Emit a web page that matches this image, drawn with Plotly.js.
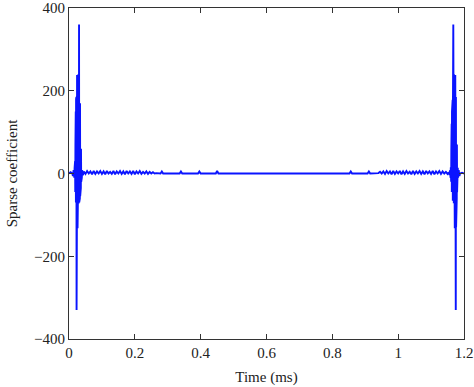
<!DOCTYPE html>
<html>
<head>
<meta charset="utf-8">
<script src="https://cdn.plot.ly/plotly-3.0.1.min.js"></script>
<style>html,body{margin:0;padding:0;background:#fff;}#chart{width:474px;height:387px;}</style>
</head>
<body>
<div id="chart"></div>
<script>
// Time in ms, sparse coefficient values
var tStart = [0.000, 0.005, 0.010, 0.012, 0.014, 0.016, 0.017];
var vStart = [0, 3, 0, -6, 8, -10, 14];

var tSpikeL = [0.0180,0.0185,0.0190,0.0195,0.0200,0.0205,0.0210,0.0215,0.0220,0.0225,
               0.0230,0.0235,0.0240,0.0245,0.0250,0.0255,0.0260,0.0265,0.0270,0.0275,
               0.0280,0.0285,0.0290,0.0295,0.0300,0.0305,0.0310,0.0315,0.0320,0.0325,
               0.0330,0.0335,0.0340,0.0345,0.0350,0.0355,0.0360,0.0365,0.0370,0.0380,
               0.0390,0.0400,0.0420];
var vSpikeL = [-18,30,-45,70,-60,150,-70,180,-130,185,
               -330,175,-125,238,-71,230,-132,185,-70,180,
               -68,240,-72,185,-65,360,-70,182,-66,178,
               -60,170,-55,150,-45,120,-35,60,-20,15,
               -10,8,-4];

var tRippleL = [0.045,0.050,0.055,0.060,0.065,0.070,0.075,0.080,0.085,0.090,
                0.095,0.100,0.105,0.110,0.115,0.120,0.125,0.130,0.135,0.140,
                0.145,0.150,0.155,0.160,0.165,0.170,0.175,0.180,0.185,0.190,
                0.195,0.200,0.205,0.210,0.215,0.220,0.225,0.230,0.235,0.240,
                0.245,0.250,0.255,0.260,0.265];
var vRippleL = [5,-1,6,0,5,-2,6,-1,5,0,
                6,-1,5,-2,6,0,4,-1,6,-2,
                5,0,6,-1,5,-2,6,0,5,-1,
                6,-2,5,0,6,-1,4,0,5,-1,
                4,0,3,0,1];

var tMid = [0.270,0.278,0.282,0.286,0.336,0.340,0.344,0.392,0.396,0.400,
            0.446,0.450,0.454,0.852,0.856,0.860,0.907,0.911,0.915,0.935];
var vMid = [0,0,5,0,0,5,0,0,5,0,
            0,6,0,0,5,0,0,5,0,0];

var tRippleR = [0.940,0.945,0.950,0.955,0.960,0.965,0.970,0.975,0.980,0.985,
                0.990,0.995,1.000,1.005,1.010,1.015,1.020,1.025,1.030,1.035,
                1.040,1.045,1.050,1.055,1.060,1.065,1.070,1.075,1.080,1.085,
                1.090,1.095,1.100,1.105,1.110,1.115,1.120,1.125,1.130,1.135,
                1.140,1.145,1.150];
var vRippleR = [1,4,0,5,-1,6,0,5,-2,6,
                -1,5,0,6,-2,5,-1,6,0,4,
                -2,6,-1,5,0,6,-1,5,-2,6,
                0,5,-1,6,-2,5,0,6,-1,5,
                0,4,-1];

var tSpikeR = [1.154,1.156,1.158,1.159,1.160,1.161,1.1615,1.162,1.1625,1.163,
               1.1635,1.164,1.1645,1.165,1.1655,1.166,1.1665,1.167,1.1675,1.168,
               1.1685,1.169,1.1695,1.170,1.1705,1.171,1.1715,1.172,1.1725,1.173,
               1.1735,1.174,1.1745,1.175,1.1755,1.176,1.1765,1.177,1.1775,1.178,
               1.1785,1.179,1.1795,1.180,1.181,1.182,1.184,1.186,1.188,1.194,1.200];
var vSpikeR = [3,-4,8,-10,15,-20,60,-35,120,-45,
               150,-55,170,-60,178,-66,182,-70,360,-65,
               185,-72,240,-68,180,-70,185,-132,230,-71,
               238,-125,175,-330,185,-130,180,-70,150,-60,
               70,-45,30,-18,14,-10,8,-6,0,2,0];

var xTickVals = [0, 0.2, 0.4, 0.6, 0.8, 1, 1.2];
var xTickText = ['0', '0.2', '0.4', '0.6', '0.8', '1', '1.2'];
var yTickVals = [-400, -200, 0, 200, 400];
var yTickText = ['\u2212400', '\u2212200', '0', '200', '400'];

var t = [].concat(tStart, tSpikeL, tRippleL, tMid, tRippleR, tSpikeR);
var v = [].concat(vStart, vSpikeL, vRippleL, vMid, vRippleR, vSpikeR);

var font = {family: 'Liberation Serif, Times New Roman, serif', size: 15, color: '#222'};

var trace = {
  x: t, y: v, type: 'scatter', mode: 'lines',
  line: {color: '#0a14ff', width: 1.9},
  hoverinfo: 'skip'
};

var axisCommon = {
  showline: true, mirror: 'ticks', linecolor: '#333', linewidth: 1,
  ticks: 'inside', ticklen: 5, tickcolor: '#333', tickwidth: 1,
  showgrid: false, zeroline: false, tickfont: font
};

var layout = {
  width: 474, height: 387,
  margin: {l: 69, r: 10, t: 8, b: 48},
  paper_bgcolor: '#fff', plot_bgcolor: '#fff',
  showlegend: false,
  font: font,
  xaxis: Object.assign({}, axisCommon, {
    range: [0, 1.2], tickmode: 'array', tickvals: xTickVals, ticktext: xTickText,
    title: {text: 'Time (ms)', font: font, standoff: 11}
  }),
  yaxis: Object.assign({}, axisCommon, {
    range: [-400, 400], tickmode: 'array', tickvals: yTickVals, ticktext: yTickText,
    title: {text: 'Sparse coefficient', font: font, standoff: 12}
  })
};

Plotly.newPlot('chart', [trace], layout, {displayModeBar: false, staticPlot: true});
</script>
</body>
</html>
